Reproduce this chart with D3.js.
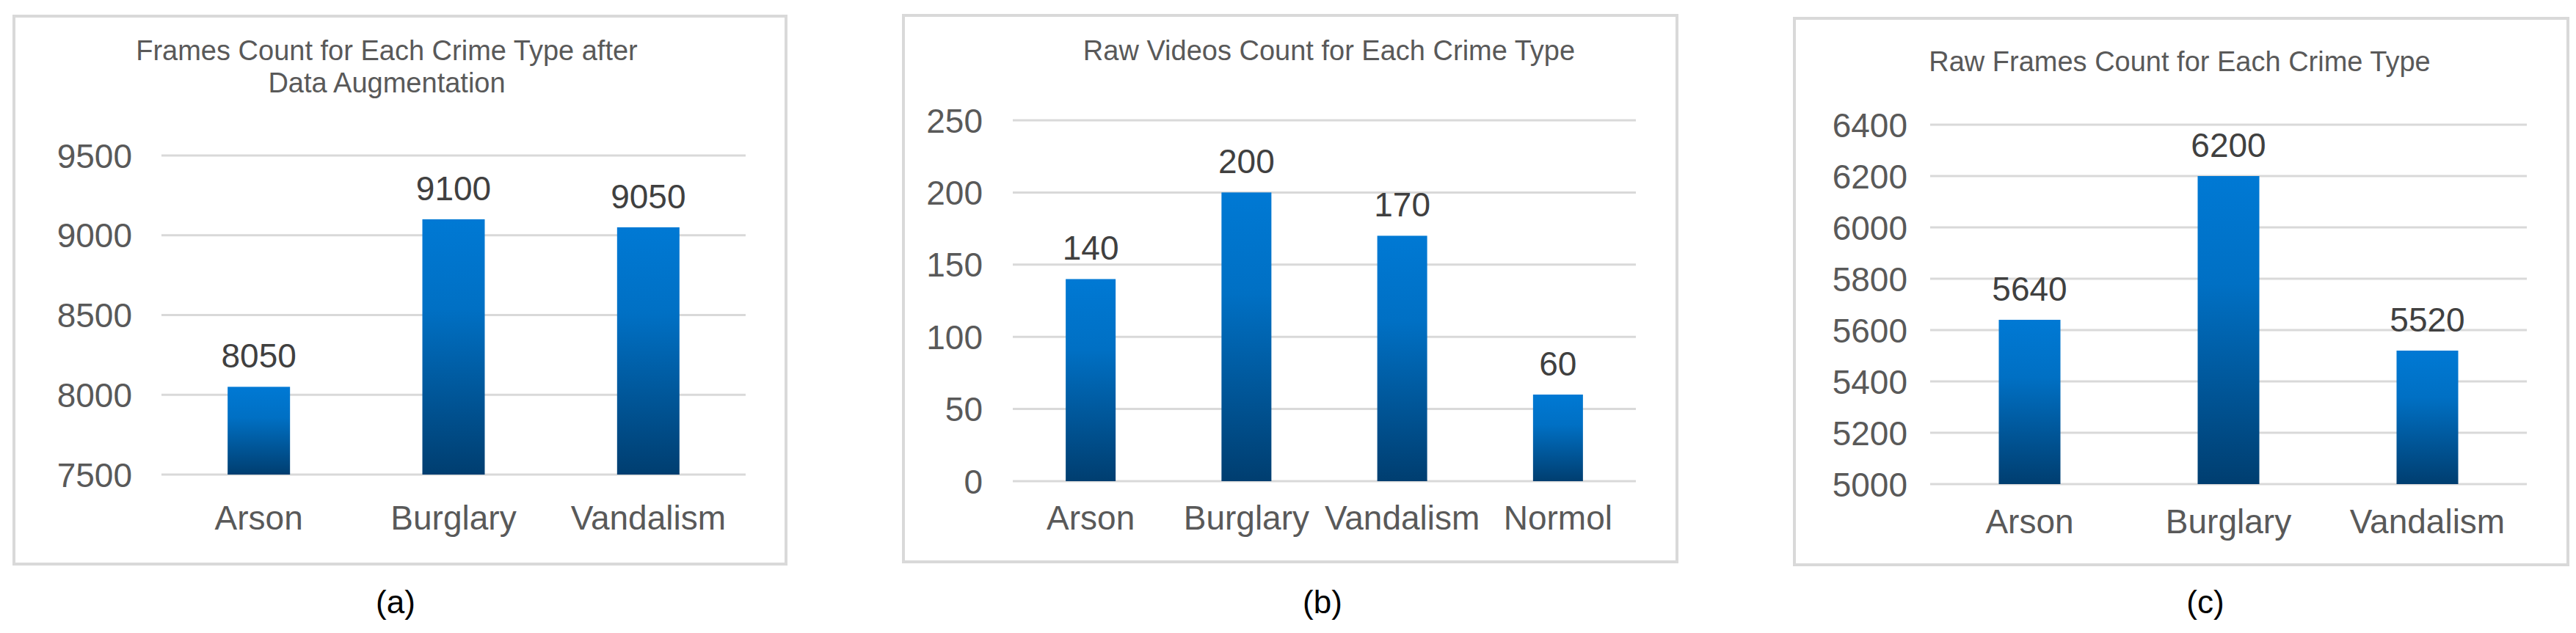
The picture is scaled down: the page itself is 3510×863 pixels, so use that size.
<!DOCTYPE html>
<html><head><meta charset="utf-8">
<script src="https://cdn.jsdelivr.net/npm/d3@7"></script>
<style>body{margin:0;background:#fff}svg{display:block}</style>
</head><body>
<script>
const titlesA = ["Frames Count for Each Crime Type after", "Data Augmentation"];
const catsA = ["Arson", "Burglary", "Vandalism"];
const valsA = [8050, 9100, 9050];
const ticksA = [7500, 8000, 8500, 9000, 9500];

const titlesB = ["Raw Videos Count for Each Crime Type"];
const catsB = ["Arson", "Burglary", "Vandalism", "Normol"];
const valsB = [140, 200, 170, 60];
const ticksB = [0, 50, 100, 150, 200, 250];

const titlesC = ["Raw Frames Count for Each Crime Type"];
const catsC = ["Arson", "Burglary", "Vandalism"];
const valsC = [5640, 6200, 5520];
const ticksC = [5000, 5200, 5400, 5600, 5800, 6000, 6200, 6400];

const captions = ["(a)", "(b)", "(c)"];

const W = 3510, H = 863;
const svg = d3.select("body").append("svg").attr("width", W).attr("height", H);
const defs = svg.append("defs");
const g = defs.append("linearGradient").attr("id", "barGrad").attr("x1", 0).attr("y1", 0).attr("x2", 0).attr("y2", 1);
g.append("stop").attr("offset", "0%").attr("stop-color", "#0079d4");
g.append("stop").attr("offset", "35%").attr("stop-color", "#0070c4");
g.append("stop").attr("offset", "100%").attr("stop-color", "#003e70");

const FONT = "'Liberation Sans',Arial,sans-serif";
const TXT = "#595959";

const panels = [
  {box:[19,22,1071,769], titles:titlesA, titleY:[72,116], titleX:527, cats:catsA, vals:valsA, ticks:ticksA,
   plot:[220,1016,212,647], tickX:180, catY:722, bw:85, cap:captions[0], capX:539, dom:[7500,9500]},
  {box:[1231,21,2285,766], titles:titlesB, titleY:[72], titleX:1811, cats:catsB, vals:valsB, ticks:ticksB,
   plot:[1380,2229,164,656], tickX:1339, catY:722, bw:68, cap:captions[1], capX:1802, dom:[0,250]},
  {box:[2445,25,3499,770], titles:titlesC, titleY:[87], titleX:2970, cats:catsC, vals:valsC, ticks:ticksC,
   plot:[2630,3443,170,660], tickX:2599, catY:727, bw:84, cap:captions[2], capX:3005, dom:[5000,6400]}
];

panels.forEach(p => {
  const G = svg.append("g");
  G.append("rect").attr("x", p.box[0]).attr("y", p.box[1])
    .attr("width", p.box[2]-p.box[0]).attr("height", p.box[3]-p.box[1])
    .attr("fill", "#fff").attr("stroke", "#d9d9d9").attr("stroke-width", 4);
  p.titles.forEach((t, i) => G.append("text").attr("x", p.titleX).attr("y", p.titleY[i])
    .attr("text-anchor", "middle").attr("dominant-baseline", "middle")
    .attr("font-family", FONT).attr("font-size", 38).attr("fill", TXT).text(t));
  const x = d3.scaleBand().domain(p.cats).range([p.plot[0], p.plot[1]]);
  const y = d3.scaleLinear().domain(p.dom).range([p.plot[3], p.plot[2]]);
  G.selectAll("line.grid").data(p.ticks).join("line")
    .attr("x1", p.plot[0]).attr("x2", p.plot[1])
    .attr("y1", d => y(d)).attr("y2", d => y(d))
    .attr("stroke", "#d9d9d9").attr("stroke-width", 3);
  const ya = d3.axisLeft(y).tickValues(p.ticks).tickFormat(d3.format("d")).tickSize(0).tickPadding(0);
  const yg = G.append("g").attr("transform", `translate(${p.tickX},0)`).call(ya);
  yg.select(".domain").remove();
  yg.selectAll("text").attr("font-family", FONT).attr("font-size", 46).attr("fill", TXT).attr("dy", "0.35em");
  G.selectAll("rect.bar").data(p.cats).join("rect")
    .attr("x", d => x(d) + x.bandwidth()/2 - p.bw/2)
    .attr("width", p.bw)
    .attr("y", (d, i) => y(p.vals[i]))
    .attr("height", (d, i) => y(p.dom[0]) - y(p.vals[i]))
    .attr("fill", "url(#barGrad)");
  G.selectAll("text.val").data(p.cats).join("text")
    .attr("x", d => x(d) + x.bandwidth()/2)
    .attr("y", (d, i) => y(p.vals[i]) - 26)
    .attr("text-anchor", "middle").attr("font-family", FONT).attr("font-size", 46).attr("fill", "#404040")
    .text((d, i) => p.vals[i]);
  const xa = d3.axisBottom(x).tickSize(0).tickPadding(0);
  const xg = G.append("g").attr("transform", `translate(0,${p.catY})`).call(xa);
  xg.select(".domain").remove();
  xg.selectAll("text").attr("font-family", FONT).attr("font-size", 46).attr("fill", TXT).attr("dy", 0);
  svg.append("text").attr("x", p.capX).attr("y", 824).attr("text-anchor", "middle")
    .attr("dominant-baseline", "middle").attr("font-family", FONT)
    .attr("font-size", 44).attr("fill", "#000").text(p.cap);
});
</script>
</body></html>
